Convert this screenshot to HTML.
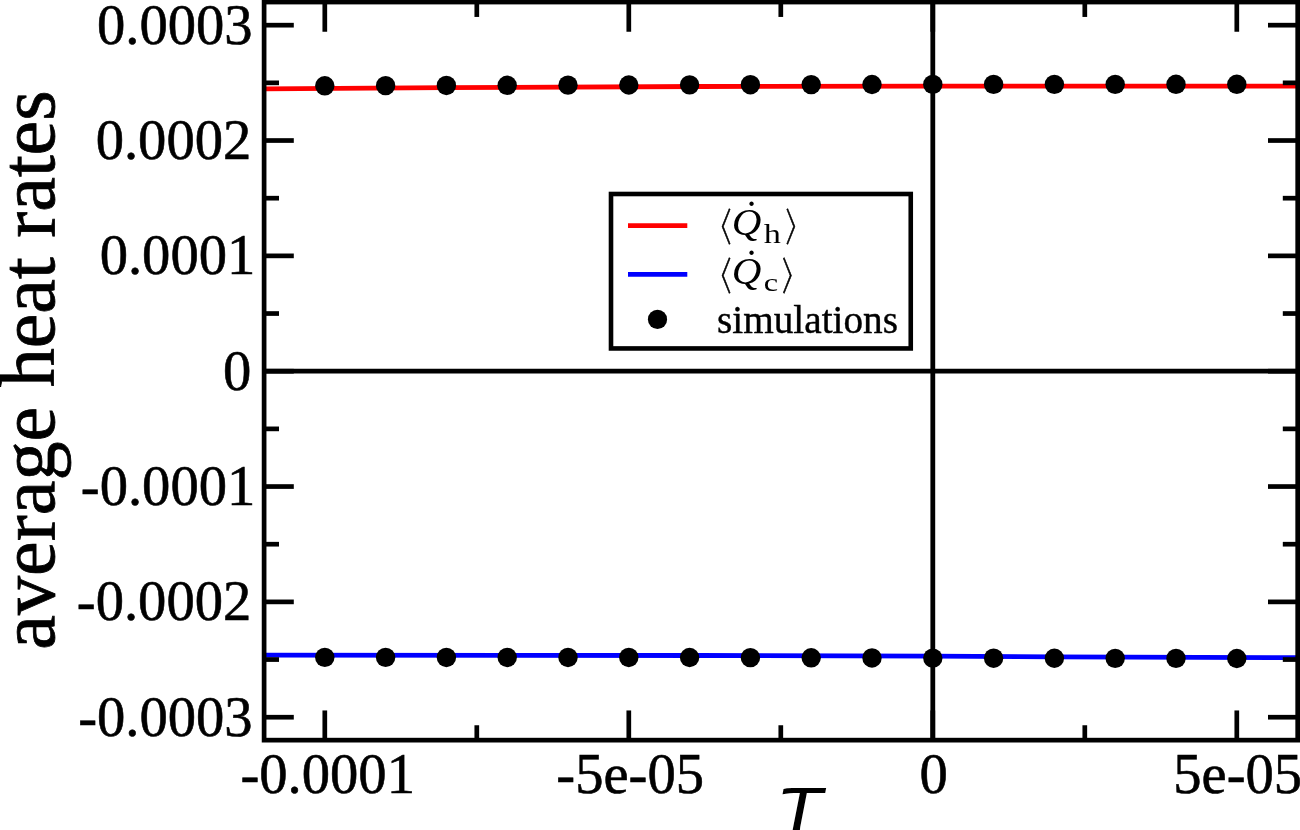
<!DOCTYPE html>
<html lang="en"><head><meta charset="utf-8"><title>average heat rates</title>
<style>html,body{margin:0;padding:0;background:#fff;}body{width:1300px;height:830px;overflow:hidden;}svg{display:block;}text{font-family:"Liberation Serif","DejaVu Serif",serif;fill:#000;}.tl{font-size:56.6px;stroke:#000;stroke-width:0.6px;}.it{font-style:italic;}</style></head><body>
<svg width="1300" height="830" viewBox="0 0 1300 830">
<rect x="0" y="0" width="1300" height="830" fill="#fff"/>
<g stroke="#000" stroke-width="4.8" fill="none" stroke-linecap="butt">
<line x1="264.1" y1="371.2" x2="1297.7" y2="371.2"/>
<line x1="932.8" y1="2.05" x2="932.8" y2="740.15"/>
</g>
<polyline fill="none" stroke="#f00" stroke-width="4.8" stroke-linejoin="round" points="264.1,88.8 446,87.7 700,86.5 933,86.1 1297.7,86.2"/>
<polyline fill="none" stroke="#00f" stroke-width="4.8" stroke-linejoin="round" points="264.1,655.1 700,655.5 933,656.15 1055,656.9 1297.7,657.7"/>
<g stroke="#000" stroke-width="4.7" fill="none" stroke-linecap="butt">
<line x1="264.1" y1="717.22" x2="293.8" y2="717.22"/>
<line x1="1297.7" y1="717.22" x2="1268.0" y2="717.22"/>
<line x1="264.1" y1="659.55" x2="279.0" y2="659.55"/>
<line x1="1297.7" y1="659.55" x2="1282.8" y2="659.55"/>
<line x1="264.1" y1="601.88" x2="293.8" y2="601.88"/>
<line x1="1297.7" y1="601.88" x2="1268.0" y2="601.88"/>
<line x1="264.1" y1="544.21" x2="279.0" y2="544.21"/>
<line x1="1297.7" y1="544.21" x2="1282.8" y2="544.21"/>
<line x1="264.1" y1="486.54" x2="293.8" y2="486.54"/>
<line x1="1297.7" y1="486.54" x2="1268.0" y2="486.54"/>
<line x1="264.1" y1="428.87" x2="279.0" y2="428.87"/>
<line x1="1297.7" y1="428.87" x2="1282.8" y2="428.87"/>
<line x1="264.1" y1="371.20" x2="293.8" y2="371.20"/>
<line x1="1297.7" y1="371.20" x2="1268.0" y2="371.20"/>
<line x1="264.1" y1="313.53" x2="279.0" y2="313.53"/>
<line x1="1297.7" y1="313.53" x2="1282.8" y2="313.53"/>
<line x1="264.1" y1="255.86" x2="293.8" y2="255.86"/>
<line x1="1297.7" y1="255.86" x2="1268.0" y2="255.86"/>
<line x1="264.1" y1="198.19" x2="279.0" y2="198.19"/>
<line x1="1297.7" y1="198.19" x2="1282.8" y2="198.19"/>
<line x1="264.1" y1="140.52" x2="293.8" y2="140.52"/>
<line x1="1297.7" y1="140.52" x2="1268.0" y2="140.52"/>
<line x1="264.1" y1="82.85" x2="279.0" y2="82.85"/>
<line x1="1297.7" y1="82.85" x2="1282.8" y2="82.85"/>
<line x1="264.1" y1="25.18" x2="293.8" y2="25.18"/>
<line x1="1297.7" y1="25.18" x2="1268.0" y2="25.18"/>
<line x1="324.80" y1="740.15" x2="324.80" y2="710.4499999999999"/>
<line x1="324.80" y1="2.05" x2="324.80" y2="31.75"/>
<line x1="476.80" y1="740.15" x2="476.80" y2="725.25"/>
<line x1="476.80" y1="2.05" x2="476.80" y2="16.95"/>
<line x1="628.80" y1="740.15" x2="628.80" y2="710.4499999999999"/>
<line x1="628.80" y1="2.05" x2="628.80" y2="31.75"/>
<line x1="780.80" y1="740.15" x2="780.80" y2="725.25"/>
<line x1="780.80" y1="2.05" x2="780.80" y2="16.95"/>
<line x1="932.80" y1="740.15" x2="932.80" y2="710.4499999999999"/>
<line x1="932.80" y1="2.05" x2="932.80" y2="31.75"/>
<line x1="1084.80" y1="740.15" x2="1084.80" y2="725.25"/>
<line x1="1084.80" y1="2.05" x2="1084.80" y2="16.95"/>
<line x1="1236.80" y1="740.15" x2="1236.80" y2="710.4499999999999"/>
<line x1="1236.80" y1="2.05" x2="1236.80" y2="31.75"/>
<rect x="264.1" y="2.05" width="1033.6" height="738.1"/>
</g>
<g fill="#000">
<circle cx="324.8" cy="85.80" r="9.7"/>
<circle cx="324.8" cy="657.40" r="9.7"/>
<circle cx="385.6" cy="85.64" r="9.7"/>
<circle cx="385.6" cy="657.42" r="9.7"/>
<circle cx="446.4" cy="85.48" r="9.7"/>
<circle cx="446.4" cy="657.43" r="9.7"/>
<circle cx="507.2" cy="85.31" r="9.7"/>
<circle cx="507.2" cy="657.45" r="9.7"/>
<circle cx="568.0" cy="85.15" r="9.7"/>
<circle cx="568.0" cy="657.46" r="9.7"/>
<circle cx="628.8" cy="84.99" r="9.7"/>
<circle cx="628.8" cy="657.48" r="9.7"/>
<circle cx="689.6" cy="84.83" r="9.7"/>
<circle cx="689.6" cy="657.50" r="9.7"/>
<circle cx="750.4" cy="84.71" r="9.7"/>
<circle cx="750.4" cy="657.63" r="9.7"/>
<circle cx="811.2" cy="84.61" r="9.7"/>
<circle cx="811.2" cy="657.79" r="9.7"/>
<circle cx="872.0" cy="84.50" r="9.7"/>
<circle cx="872.0" cy="657.94" r="9.7"/>
<circle cx="932.8" cy="84.40" r="9.7"/>
<circle cx="932.8" cy="658.10" r="9.7"/>
<circle cx="993.6" cy="84.38" r="9.7"/>
<circle cx="993.6" cy="658.18" r="9.7"/>
<circle cx="1054.4" cy="84.36" r="9.7"/>
<circle cx="1054.4" cy="658.26" r="9.7"/>
<circle cx="1115.2" cy="84.34" r="9.7"/>
<circle cx="1115.2" cy="658.34" r="9.7"/>
<circle cx="1176.0" cy="84.32" r="9.7"/>
<circle cx="1176.0" cy="658.42" r="9.7"/>
<circle cx="1236.8" cy="84.30" r="9.7"/>
<circle cx="1236.8" cy="658.50" r="9.7"/>
</g>
<text class="tl" transform="translate(252.6,43.5) scale(1,1.02)" text-anchor="end">0.0003</text>
<text class="tl" transform="translate(251.3,158.8) scale(1,1.02)" text-anchor="end">0.0002</text>
<text class="tl" transform="translate(255.3,274.2) scale(1,1.02)" text-anchor="end">0.0001</text>
<text class="tl" transform="translate(251.2,389.5) scale(1,1.02)" text-anchor="end">0</text>
<text class="tl" transform="translate(255.3,504.8) scale(1,1.02)" text-anchor="end">-0.0001</text>
<text class="tl" transform="translate(251.3,620.2) scale(1,1.02)" text-anchor="end">-0.0002</text>
<text class="tl" transform="translate(252.6,735.5) scale(1,1.02)" text-anchor="end">-0.0003</text>
<text class="tl" transform="translate(327.7,793.0) scale(1,1.02)" text-anchor="middle">-0.0001</text>
<text class="tl" transform="translate(630.2,793.0) scale(1,1.02)" text-anchor="middle">-5e-05</text>
<text class="tl" transform="translate(933.7,793.0) scale(1,1.02)" text-anchor="middle">0</text>
<text class="tl" transform="translate(1237.7,793.0) scale(1,1.02)" text-anchor="middle">5e-05</text>
<text transform="translate(53.6,370) rotate(-90)" font-size="78.1" stroke="#000" stroke-width="0.8" text-anchor="middle">average heat rates</text>
<text class="it" style="font-family:'Liberation Mono',monospace" stroke="#fff" stroke-width="1.8" transform="translate(770.5,840.4)" font-size="100.5">τ</text>
<rect x="611.0" y="194.0" width="299.75" height="154.45" fill="#fff" stroke="#000" stroke-width="4.6"/>
<line x1="628" y1="225.7" x2="687.3" y2="225.7" stroke="#f00" stroke-width="4.8"/>
<line x1="628" y1="274.4" x2="687.3" y2="274.4" stroke="#00f" stroke-width="4.8"/>
<circle cx="657.5" cy="319.4" r="9.6" fill="#000"/>
<text x="717" y="332.7" font-size="39.25" stroke="#000" stroke-width="0.4">simulations</text>
<text style="font-family:'Liberation Serif','WenQuanYi Zen Hei',sans-serif" stroke="#000" stroke-width="0.6" transform="translate(700.15,241.20) scale(0.85,1)" font-size="40.5">〈</text>
<text class="it" transform="translate(731.84,235.40) scale(1.08,1)" font-size="38">Q</text>
<text transform="translate(744.40,230.00) scale(1.0,1)" font-size="42">˙</text>
<text transform="translate(763.72,242.50) scale(1.28,1)" font-size="26.8">h</text>
<text style="font-family:'Liberation Serif','WenQuanYi Zen Hei',sans-serif" stroke="#000" stroke-width="0.6" transform="translate(782.30,241.20) scale(0.85,1)" font-size="40.5">〉</text>
<text style="font-family:'Liberation Serif','WenQuanYi Zen Hei',sans-serif" stroke="#000" stroke-width="0.6" transform="translate(700.15,289.95) scale(0.85,1)" font-size="40.5">〈</text>
<text class="it" transform="translate(731.84,284.15) scale(1.08,1)" font-size="38">Q</text>
<text transform="translate(744.40,278.75) scale(1.0,1)" font-size="42">˙</text>
<text transform="translate(763.68,291.25) scale(1.32,1)" font-size="24.5">c</text>
<text style="font-family:'Liberation Serif','WenQuanYi Zen Hei',sans-serif" stroke="#000" stroke-width="0.6" transform="translate(778.65,289.95) scale(0.85,1)" font-size="40.5">〉</text>
</svg></body></html>
